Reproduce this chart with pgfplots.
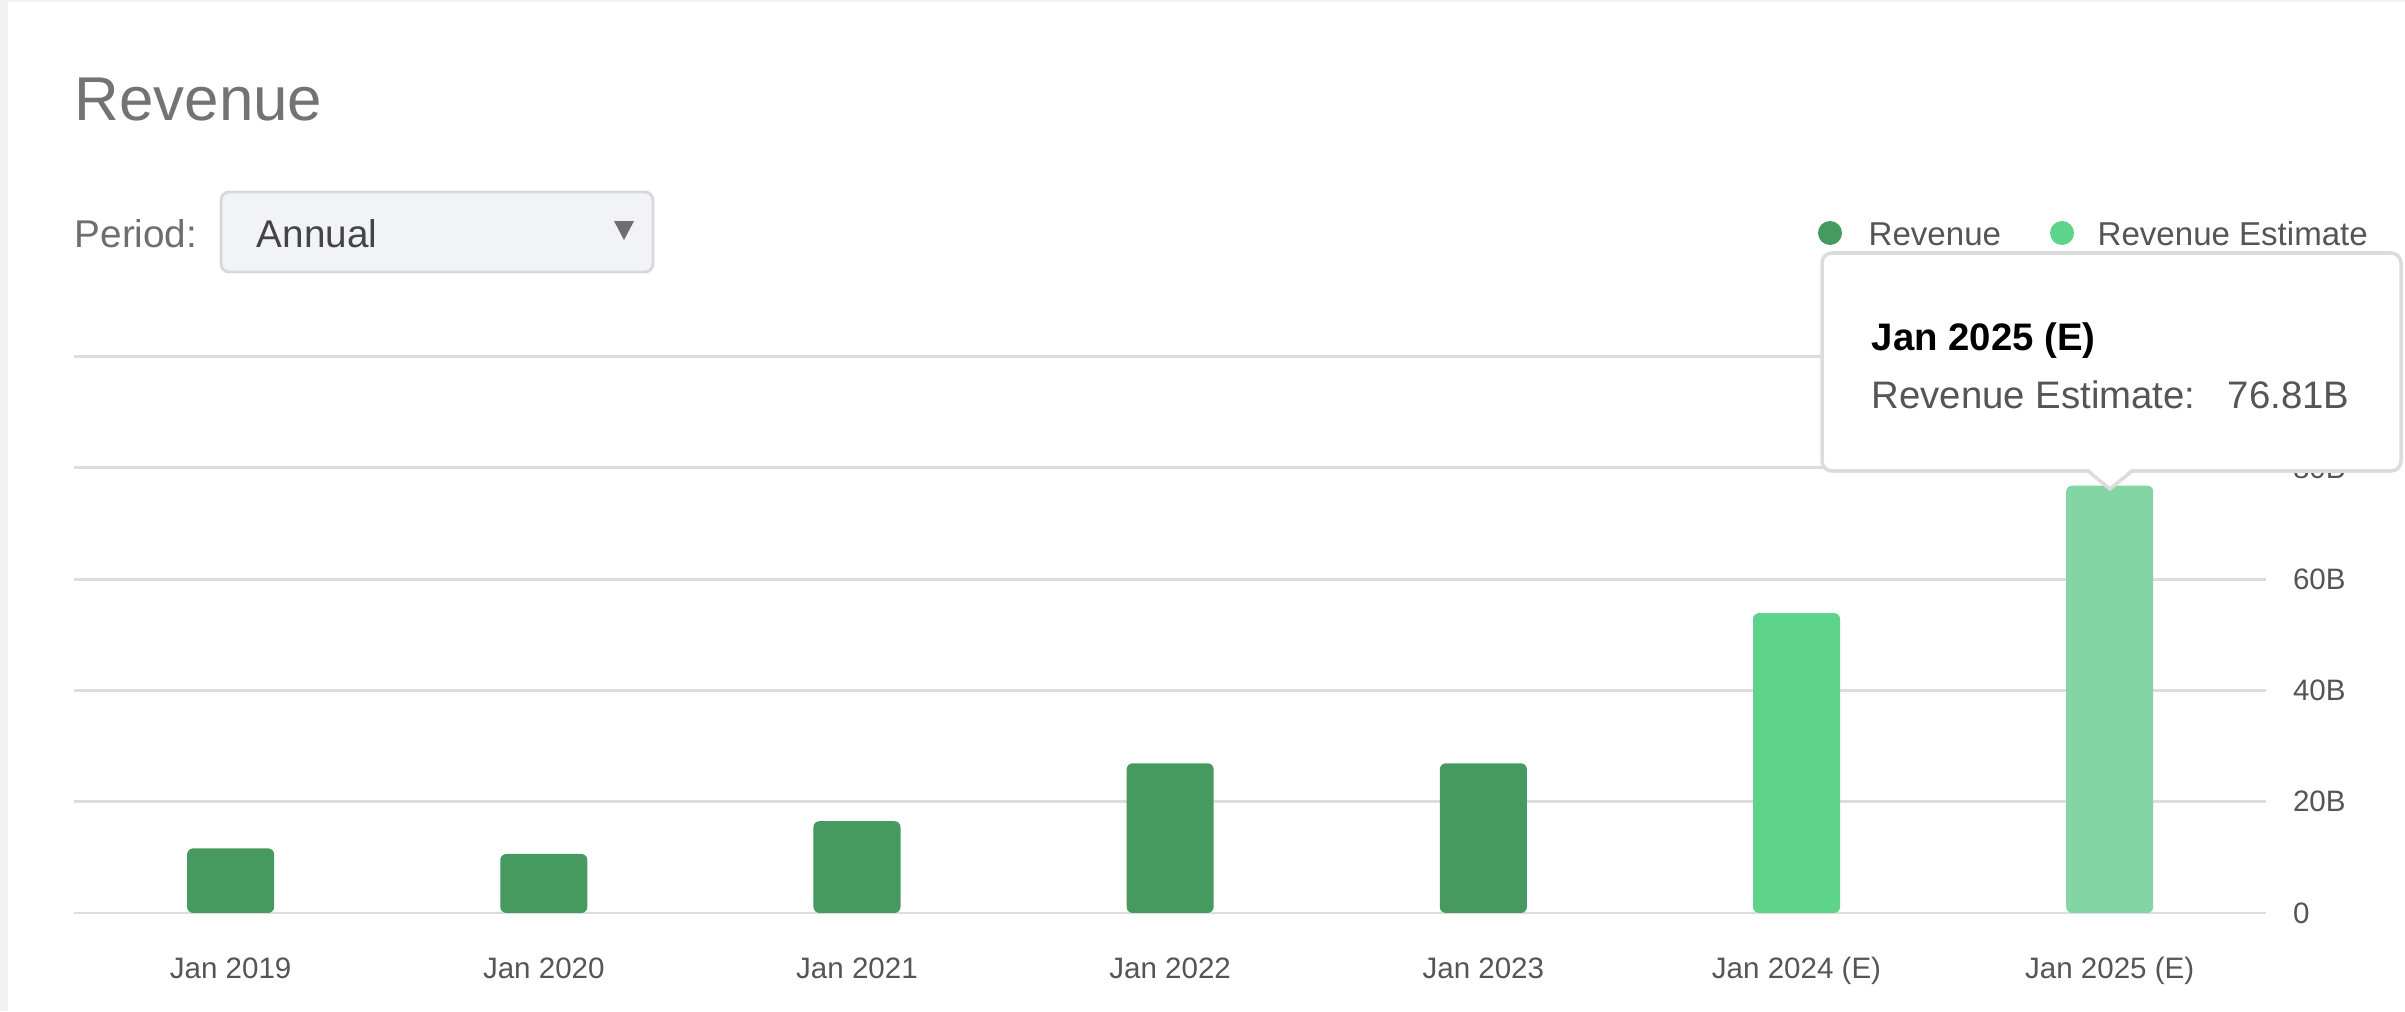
\documentclass[border=0pt]{standalone}
\usepackage{pgfplots}
\pgfplotsset{compat=1.18}
\usepackage{fontspec}
\setmainfont{Liberation Sans}
\definecolor{revgreen}{HTML}{469A60}
\definecolor{estgreen}{HTML}{5ED48B}
\definecolor{hovgreen}{HTML}{83D6A4}
\definecolor{gridcol}{HTML}{DDDDDD}
\definecolor{ticktext}{HTML}{555555}
\definecolor{titlegray}{HTML}{737373}
\definecolor{periodgray}{HTML}{6E6E6E}
\definecolor{annualgray}{HTML}{444444}
\definecolor{boxfill}{HTML}{F2F3F7}
\definecolor{boxborder}{HTML}{D8D8D8}
\definecolor{leftgray}{HTML}{F2F1EF}
\definecolor{tipborder}{HTML}{DCDCDC}
\begin{document}
\begin{tikzpicture}[x=0.01cm,y=0.01cm]
\useasboundingbox (0,0) rectangle (2405,1011);
\fill[white] (0,0) rectangle (2405,1011);
\fill[leftgray] (0,0) rectangle (8,1011);
\fill[leftgray] (8,1009) rectangle (2405,1011);
% title
\node[anchor=base west, inner sep=0pt, text=titlegray, font=\fontsize{17.6}{20}\selectfont] at (74,890) {Revenue};
% period selector
\node[anchor=base west, inner sep=0pt, text=periodgray, font=\fontsize{11}{13}\selectfont] at (74,764) {Period:};
\draw[boxborder, fill=boxfill, rounded corners=0.08cm, line width=0.8pt] (221,739) rectangle (653,819);
\node[anchor=base west, inner sep=0pt, text=annualgray, font=\fontsize{11}{13}\selectfont] at (256,764) {Annual};
\fill[periodgray] (614,790) -- (634,790) -- (624,771) -- cycle;
% legend
\fill[revgreen] (1830,778) circle (12);
\node[anchor=base west, inner sep=0pt, text=ticktext, font=\fontsize{9.4}{11}\selectfont] at (1868,766) {Revenue};
\fill[estgreen] (2062,778) circle (12);
\node[anchor=base west, inner sep=0pt, text=ticktext, font=\fontsize{9.4}{11}\selectfont] at (2097,766) {Revenue Estimate};
\begin{axis}[
  at={(0.74cm,0.98cm)}, anchor=south west,
  scale only axis, width=21.91cm, height=5.56cm,
  xmin=-0.5, xmax=6.5, ymin=0, ymax=100,
  ytick={0,20,40,60,80,100},
  yticklabels={0,20B,40B,60B,80B,100B},
  xtick={0,1,2,3,4,5,6},
  xticklabels={Jan 2019,Jan 2020,Jan 2021,Jan 2022,Jan 2023,Jan 2024 (E),Jan 2025 (E)},
  axis line style={draw=none},
  major tick length=0pt,
  ymajorgrids,
  grid style={gridcol, line width=0.8pt},
  yticklabel pos=right,
  yticklabel style={anchor=west, inner sep=0pt, xshift=0.26cm, text=ticktext, font=\fontsize{8.4}{10}\selectfont},
  xticklabel style={anchor=base, inner sep=0pt, yshift=-0.66cm, text=ticktext, font=\fontsize{8.4}{10}\selectfont},
  /pgf/number format/assume math mode=true,
  ybar, bar width=0.87cm, bar shift=0pt,
]
\addplot[fill=revgreen, draw=none, rounded corners=0.06cm] coordinates {(0,11.6) (1,10.6) (2,16.5) (3,26.9) (4,26.9)};
\addplot[fill=estgreen, draw=none, rounded corners=0.06cm] coordinates {(5,53.9)};
\addplot[fill=hovgreen, draw=none, rounded corners=0.06cm] coordinates {(6,76.81)};
\end{axis}
% tooltip
\draw[tipborder, fill=white, rounded corners=0.1cm, line width=1pt] (1822,540) rectangle (2401,758);
\fill[white] (2089,542) -- (2110,523) -- (2131,542) -- cycle;
\draw[tipborder, line width=1pt] (2088,540) -- (2110,522) -- (2132,540);
\node[anchor=base west, inner sep=0pt, text=black, font=\bfseries\fontsize{10.9}{13}\selectfont] at (1871,661) {Jan 2025 (E)};
\node[anchor=base west, inner sep=0pt, text=ticktext, font=\fontsize{10.9}{13}\selectfont] at (1871,603) {Revenue Estimate:};
\node[anchor=base east, inner sep=0pt, text=ticktext, font=\fontsize{10.9}{13}\selectfont] at (2350,603) {76.81B};
\end{tikzpicture}
\end{document}
